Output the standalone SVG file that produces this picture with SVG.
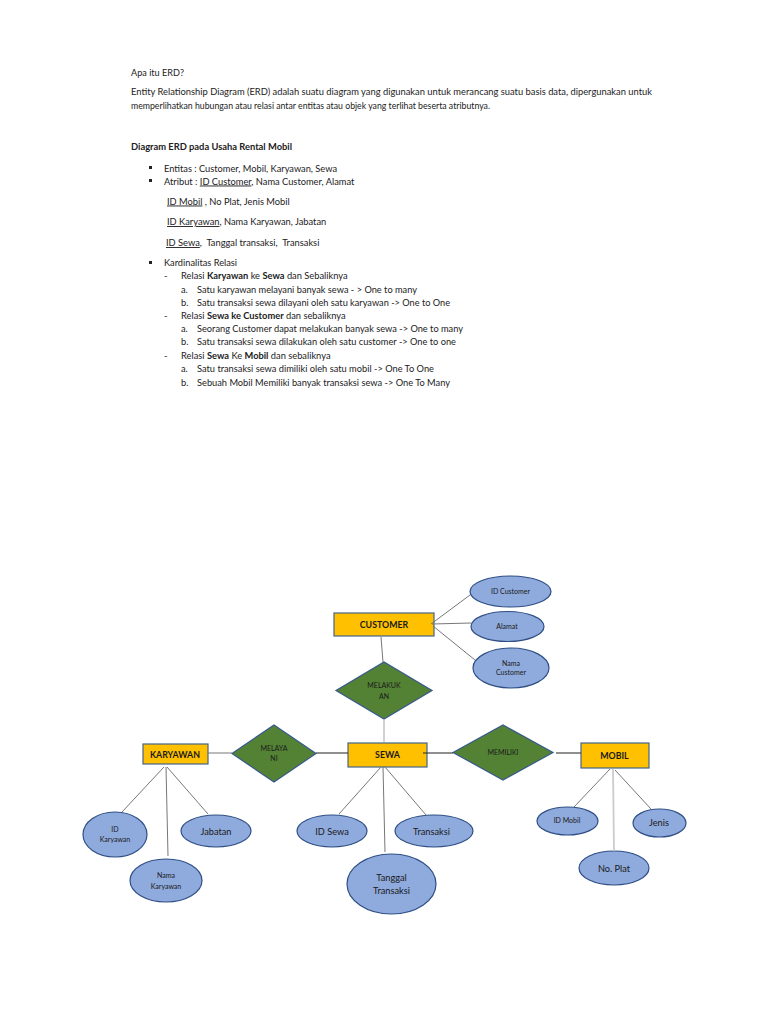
<svg xmlns="http://www.w3.org/2000/svg" width="768" height="1024" viewBox="0 0 768 1024">
<style>
text{font-family:"Lato","Liberation Sans",sans-serif;fill:#222}
.b{font-size:9.3px}
.u{text-decoration:underline}
.s{font-weight:700}
.e{fill:#FFC000;stroke:#44648a;stroke-width:1.2}
.a{fill:#8FAADC;stroke:#2F4F85;stroke-width:1.2}
.r{fill:#548235;stroke:#36598a;stroke-width:1.2}
.c{text-anchor:middle;fill:#1a1a1a}
.et{font-weight:700;font-size:8.8px}
.t{font-size:7px}
.m{font-size:9.2px}
.c1{stroke:#777;stroke-width:1;fill:none}
.c2{stroke:#333;stroke-width:1.1;fill:none}
.c3{stroke:#ccc;stroke-width:1.8;fill:none}
</style>
<rect width="768" height="1024" fill="#fff"/>
<g id="document-text" class="b">
<text x="131" y="75.500" textLength="53" lengthAdjust="spacingAndGlyphs">Apa itu ERD?</text>
<text x="131" y="95" textLength="521" lengthAdjust="spacingAndGlyphs">Entity Relationship Diagram (ERD) adalah suatu diagram yang digunakan untuk merancang suatu basis data, dipergunakan untuk</text>
<text x="131" y="109" textLength="359" lengthAdjust="spacingAndGlyphs">memperlihatkan hubungan atau relasi antar entitas atau objek yang terlihat beserta atributnya.</text>
<text x="131" y="150" textLength="161" lengthAdjust="spacingAndGlyphs" class="s">Diagram ERD pada Usaha Rental Mobil</text>
<rect x="149" y="166" width="3" height="3" fill="#222"/>
<rect x="149" y="179" width="3" height="3" fill="#222"/>
<rect x="149" y="261" width="3" height="3" fill="#222"/>
<text x="164" y="171.500" textLength="173" lengthAdjust="spacingAndGlyphs">Entitas : Customer, Mobil, Karyawan, Sewa</text>
<text x="164" y="184.500">Atribut : <tspan class="u">ID Customer</tspan>, Nama Customer, Alamat</text>
<text x="167" y="204.500"><tspan class="u">ID Mobil</tspan> , No Plat, Jenis Mobil</text>
<text x="167" y="225"><tspan class="u">ID Karyawan</tspan>, Nama Karyawan, Jabatan</text>
<text x="166" y="246" xml:space="preserve"><tspan class="u">ID Sewa</tspan>,  Tanggal transaksi,  Transaksi</text>
<text x="164" y="265.500" textLength="73" lengthAdjust="spacingAndGlyphs">Kardinalitas Relasi</text>
<text x="164" y="279">-</text>
<text x="181" y="279">Relasi <tspan class="s">Karyawan</tspan> ke <tspan class="s">Sewa</tspan> dan Sebaliknya</text>
<text x="181" y="292.500">a.</text>
<text x="197" y="292.500" textLength="220" lengthAdjust="spacingAndGlyphs">Satu karyawan melayani banyak sewa - &gt; One to many</text>
<text x="181" y="305.500">b.</text>
<text x="197" y="305.500" textLength="253" lengthAdjust="spacingAndGlyphs">Satu transaksi sewa dilayani oleh satu karyawan -&gt; One to One</text>
<text x="164" y="319">-</text>
<text x="181" y="319">Relasi <tspan class="s">Sewa ke Customer</tspan> dan sebaliknya</text>
<text x="181" y="332">a.</text>
<text x="197" y="332" textLength="266" lengthAdjust="spacingAndGlyphs">Seorang Customer dapat melakukan banyak sewa -&gt; One to many</text>
<text x="181" y="345">b.</text>
<text x="197" y="345" textLength="259" lengthAdjust="spacingAndGlyphs">Satu transaksi sewa dilakukan oleh satu customer -&gt; One to one</text>
<text x="164" y="358.500">-</text>
<text x="181" y="358.500">Relasi <tspan class="s">Sewa</tspan> Ke <tspan class="s">Mobil</tspan> dan sebaliknya</text>
<text x="181" y="372">a.</text>
<text x="197" y="372" textLength="237" lengthAdjust="spacingAndGlyphs">Satu transaksi sewa dimiliki oleh satu mobil -&gt; One To One</text>
<text x="181" y="385.500">b.</text>
<text x="197" y="385.500" textLength="253" lengthAdjust="spacingAndGlyphs">Sebuah Mobil Memiliki banyak transaksi sewa -&gt; One To Many</text>
</g>
<g id="customer"><rect class="e" x="334" y="613" width="100" height="23"/><text class="c et" x="384" y="628">CUSTOMER</text></g>
<g id="sewa"><rect class="e" x="348" y="743" width="79" height="24"/><text class="c et" x="387.500" y="758">SEWA</text></g>
<g id="karyawan"><rect class="e" x="143" y="744" width="65" height="20"/><text class="c et" x="175" y="757.500">KARYAWAN</text></g>
<g id="mobil"><rect class="e" x="581" y="743" width="68" height="25"/><text class="c et" x="614.500" y="758.500">MOBIL</text></g>
<g id="melakukan"><polygon class="r" points="336,690.500 384,662 432,690.500 384,719"/><text class="c t" x="384" y="687.500">MELAKUK</text><text class="c t" x="384" y="698.500">AN</text></g>
<g id="melayani"><polygon class="r" points="232,753.500 274,725 316,753.500 274,782"/><text class="c t" x="274" y="751">MELAYA</text><text class="c t" x="274" y="761">NI</text></g>
<g id="memiliki"><polygon class="r" points="453,752.500 503,725 553,752.500 503,780"/><text class="c t" x="503" y="755">MEMILIKI</text></g>
<g id="id-customer"><ellipse class="a" cx="510.500" cy="591.500" rx="40.500" ry="15.500"/><text class="c t" x="510.500" y="593.500">ID Customer</text></g>
<g id="alamat"><ellipse class="a" cx="507.500" cy="626.500" rx="36.500" ry="15"/><text class="c t" x="507" y="628.500">Alamat</text></g>
<g id="nama-customer"><ellipse class="a" cx="511" cy="668" rx="38" ry="20"/><text class="c t" x="511" y="665.500">Nama</text><text class="c t" x="511" y="674.500">Customer</text></g>
<g id="id-karyawan"><ellipse class="a" cx="115" cy="834.500" rx="32" ry="22.500"/><text class="c t" x="115" y="832">ID</text><text class="c t" x="115" y="841.500">Karyawan</text></g>
<g id="nama-karyawan"><ellipse class="a" cx="166" cy="880.500" rx="36" ry="21.500"/><text class="c t" x="166" y="877.500">Nama</text><text class="c t" x="166" y="889">Karyawan</text></g>
<g id="jabatan"><ellipse class="a" cx="216" cy="831" rx="35" ry="16"/><text class="c m" x="216" y="834.500">Jabatan</text></g>
<g id="id-sewa"><ellipse class="a" cx="332" cy="831" rx="35" ry="16"/><text class="c m" x="332" y="834.500">ID Sewa</text></g>
<g id="transaksi"><ellipse class="a" cx="434" cy="831" rx="39" ry="16"/><text class="c m" x="431.500" y="834.500">Transaksi</text></g>
<g id="tanggal-transaksi"><ellipse class="a" cx="391.500" cy="884" rx="44.500" ry="30"/><text class="c m" x="391.500" y="881">Tanggal</text><text class="c m" x="391.500" y="894">Transaksi</text></g>
<g id="id-mobil"><ellipse class="a" cx="567.500" cy="821" rx="30.500" ry="14"/><text class="c t" x="567" y="823">ID Mobil</text></g>
<g id="jenis"><ellipse class="a" cx="659.500" cy="823" rx="26.500" ry="14"/><text class="c m" x="659" y="826">Jenis</text></g>
<g id="no-plat"><ellipse class="a" cx="614" cy="868" rx="35" ry="17"/><text class="c m" x="614" y="871.500">No. Plat</text></g>
<g id="connectors">
<line class="c1" x1="431" y1="624" x2="470" y2="595"/>
<line class="c1" x1="432" y1="624" x2="471" y2="623"/>
<line class="c1" x1="433" y1="626" x2="475" y2="660"/>
<line class="c1" x1="381" y1="637" x2="383" y2="662"/>
<line class="c3" x1="384" y1="720" x2="384" y2="742"/>
<line class="c1" x1="208" y1="753" x2="232" y2="753"/>
<line class="c2" x1="316" y1="753" x2="348" y2="753"/>
<line class="c2" x1="423" y1="753" x2="453" y2="753"/>
<line class="c2" x1="556" y1="753" x2="581" y2="753"/>
<line class="c1" x1="164" y1="767" x2="122" y2="812"/>
<line class="c1" x1="166" y1="767" x2="168" y2="856"/>
<line class="c1" x1="167" y1="767" x2="208" y2="814"/>
<line class="c1" x1="381" y1="767" x2="339" y2="814"/>
<line class="c1" x1="383" y1="767" x2="385" y2="852"/>
<line class="c1" x1="385" y1="767" x2="426" y2="815"/>
<line class="c1" x1="610" y1="769" x2="574" y2="807"/>
<line class="c3" x1="613" y1="769" x2="614" y2="851"/>
<line class="c1" x1="615" y1="770" x2="651" y2="809"/>
</g>
</svg>
